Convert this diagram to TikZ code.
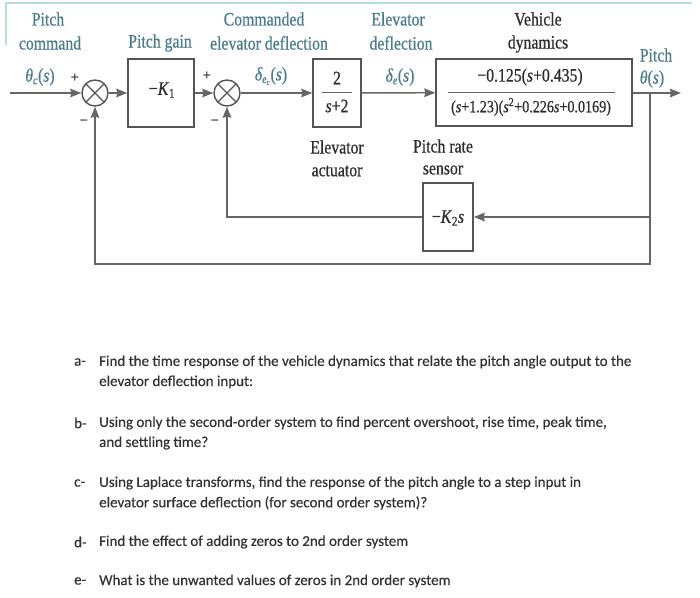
\documentclass[tikz,border=0pt]{standalone}
\usepackage{fontspec}
\setmainfont{Liberation Serif}
\newfontfamily\labf[FakeStretch=0.83,FakeBold=0.6]{Liberation Serif}
\newfontfamily\qfont[FakeBold=0.4]{Carlito}
\usetikzlibrary{arrows.meta,calc}
\definecolor{labc}{HTML}{4A7C8C}
\definecolor{linec}{HTML}{666666}
\definecolor{boxc}{HTML}{555555}
\definecolor{framec}{HTML}{B3DCE3}
\definecolor{qtext}{HTML}{333333}
\definecolor{dtext}{HTML}{2E2E2E}
\begin{document}
\begin{tikzpicture}[x=1pt,y=-1pt,
  lab/.style={text=labc, font=\labf\fontsize{19}{21}\selectfont, inner sep=0pt},
  dlab/.style={text=dtext, font=\labf\fontsize{19}{21}\selectfont, inner sep=0pt},
  blk/.style={draw=boxc, line width=1.4pt, fill=white, inner sep=0pt},
  sumj/.style={circle, draw=boxc, line width=1.4pt, minimum size=26pt, inner sep=0pt,
    path picture={\draw[boxc, line width=1.2pt] (path picture bounding box.north west) -- (path picture bounding box.south east)
      (path picture bounding box.north east) -- (path picture bounding box.south west);}},
  arr/.style={draw=linec, line width=1.4pt, -{Stealth[length=11pt,width=8.5pt,inset=1pt]}},
  ln/.style={draw=linec, line width=1.4pt},
  sgn/.style={text=dtext, font=\fontsize{15}{17}\selectfont\bfseries, inner sep=0pt},
  qt/.style={text=qtext, font=\qfont\fontsize{15}{18}\selectfont, inner sep=0pt, anchor=west},
]
\useasboundingbox (0,0) rectangle (700,597);
% frame line
\draw[framec, line width=1.6pt] (6,45) -- (6,3) -- (692,3);

% blocks
\node[blk, minimum width=66pt, minimum height=68pt] (b1) at (161,93) {};
\node[blk, minimum width=48pt, minimum height=68pt] (b2) at (337,93) {};
\node[blk, minimum width=196pt, minimum height=67pt] (b3) at (534,92.5) {};
\node[blk, minimum width=50pt, minimum height=68pt] (b4) at (448,217) {};
\node[sumj] (s1) at (95,93) {};
\node[sumj] (s2) at (227,93) {};
\coordinate (in) at (10,93);
\coordinate (out) at (681,93);
\coordinate (br) at (650,93);
\coordinate (brs) at (650,217);
\coordinate (brb) at (650,264);

% connectors
\draw[arr] (in) -- (s1);
\draw[arr] (s1) -- (b1);
\draw[arr] (b1) -- (s2);
\draw[arr] (s2) -- (b2);
\draw[arr] (b2) -- (b3);
\draw[arr] (b3.east |- br) -- (out);
\draw[arr] (br) -- (brb) -| (s1.south);
\draw[arr] (brs) -- (b4.east);
\draw[arr] (b4.west) -| (s2.south);

% block contents
\node[dlab] (k1) at (162,90) {−\textit{K}\textsubscript{1}};
\node[dlab] (n2) at (337,78) {2};
\node[dlab] (d2) at (337,106) {\textit{s}+2};
\draw[ln, line width=1.2pt] (322,92.5) -- (352,92.5);
\node[dlab, font=\labf\fontsize{19}{21}\selectfont] (n3) at (530,77) {−0.125(\textit{s}+0.435)};
\node[dlab, font=\labf\fontsize{17}{19}\selectfont] (d3) at (531,107) {(\textit{s}+1.23)(\textit{s}\textsuperscript{2}+0.226\textit{s}+0.0169)};
\draw[ln, line width=1.2pt] (448,92.5) -- (615,92.5);
\node[dlab] (k2) at (448,218) {−\textit{K}\textsubscript{2}\textit{s}};

% signs
\node[sgn] (p1) at (75,78) {+};
\node[sgn] (m1) at (84,123) {−};
\node[sgn] (p2) at (207,76) {+};
\node[sgn] (m2) at (215,123) {−};

% teal labels
\node[lab] (t1) at (48,19) {Pitch};
\node[lab] (t2) at (50,43) {command};
\node[lab] (t3) at (40,77) {\textit{θ\textsubscript{\large c}}(\textit{s})};
\node[lab] (t4) at (160,43) {Pitch gain};
\node[lab] (t5) at (264,19) {Commanded};
\node[lab] (t6) at (269,43) {elevator deflection};
\node[lab] (t7) at (271,76) {\textit{δ\textsubscript{\large e\textsubscript{c}}}(\textit{s})};
\node[lab] (t8) at (398,19) {Elevator};
\node[lab] (t9) at (401,43) {deflection};
\node[lab] (t10) at (400,77) {\textit{δ\textsubscript{\large e}}(\textit{s})};
\node[dlab] (t11) at (538,19) {Vehicle};
\node[dlab] (t12) at (538,44) {dynamics};
\node[lab] (t13) at (656,55) {Pitch};
\node[lab] (t14) at (652,79) {\textit{θ}(\textit{s})};
\node[dlab] (t15) at (337,147) {Elevator};
\node[dlab] (t16) at (337,171) {actuator};
\node[dlab] (t17) at (443,146) {Pitch rate};
\node[dlab] (t18) at (443,170) {sensor};

% questions
\node[qt] (qa) at (74,362) {a-};
\node[qt] (qa1) at (99,362) {Find the time response of the vehicle dynamics that relate the pitch angle output to the};
\node[qt] (qa2) at (99,382) {elevator deflection input:};
\node[qt] (qb) at (74,423) {b-};
\node[qt] (qb1) at (99,423) {Using only the second-order system to find percent overshoot, rise time, peak time,};
\node[qt] (qb2) at (99,443) {and settling time?};
\node[qt] (qc) at (74,483) {c-};
\node[qt] (qc1) at (99,483) {Using Laplace transforms, find the response of the pitch angle to a step input in};
\node[qt] (qc2) at (99,503) {elevator surface deflection (for second order system)?};
\node[qt] (qd) at (74,542) {d-};
\node[qt] (qd1) at (99,542) {Find the effect of adding zeros to 2nd order system};
\node[qt] (qe) at (74,581) {e-};
\node[qt] (qe1) at (99,581) {What is the unwanted values of zeros in 2nd order system};
\end{tikzpicture}
\end{document}
